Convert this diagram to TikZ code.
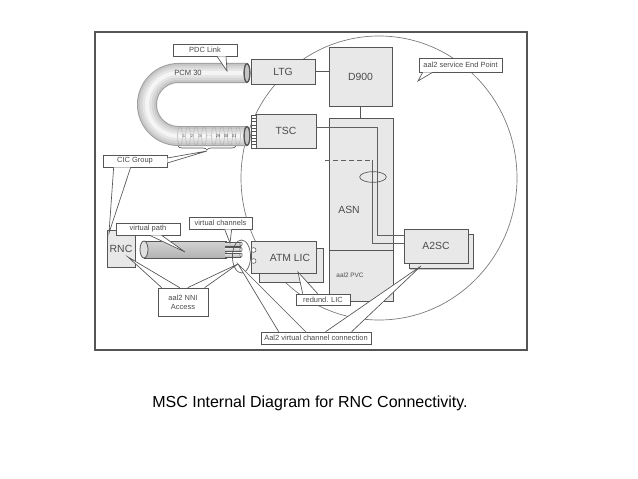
\documentclass[tikz,border=0pt]{standalone}
\usepackage{fontspec}
\setsansfont{Liberation Sans}
\definecolor{linegray}{RGB}{85, 85, 85}
\definecolor{boxgray}{RGB}{232, 232, 232}
\definecolor{textgray}{RGB}{75, 75, 75}
\usepackage{tikz}
\usetikzlibrary{calc, shadows, decorations.pathreplacing}

\begin{document}
\begin{tikzpicture}[x=0.75pt, y=-0.75pt,
  unit/.style={draw=linegray, fill=boxgray, line width=0.6pt, inner sep=0pt, text=textgray,
    font=\sffamily\fontsize{7.8}{9}\selectfont,
    drop shadow={shadow xshift=1pt, shadow yshift=-1pt, fill=gray!70, opacity=0.6}},
  callout/.style={draw=linegray, fill=white, line width=0.5pt, inner sep=0pt, align=center,
    text=textgray, font=\sffamily\fontsize{5.6}{6.6}\selectfont},
  wedge/.style={draw=linegray, fill=white, line width=0.5pt, line join=miter},
  wire/.style={draw=gray!75!black, line width=0.7pt}]
  \useasboundingbox[fill=white] (0,0) rectangle (638,478);

  % frame and service area
  \draw[linegray, line width=0.8pt] (95,32) rectangle (527,350);
  \draw[linegray!80, line width=0.5pt] (379,178) ellipse [x radius=103.5pt, y radius=106.5pt];

  % PCM 30 tube
  \foreach \w/\c in {20/gray!75, 18/gray!45, 14/gray!32, 9/gray!20, 4/gray!8}
    \draw[line width=\w*0.75pt, \c, rounded corners=23.6pt] (247,73) -- (147,73) -- (147,136) -- (247,136);
  \foreach \x in {180,188,196,204,214,222,230,238}
    \draw[gray!65, line width=0.3pt] (\x,136) ellipse [x radius=1.8pt, y radius=7pt];
  \foreach \x/\t in {184/1, 192/2, 200/3, 209/\ldots, 218/29, 226/30, 234/31}
    \node[font=\sffamily\fontsize{3}{3}\selectfont, text=textgray, inner sep=0pt] (cic\x) at (\x,136) {\t};
  \foreach \y in {73,136}
    \draw[line width=1pt, linegray, fill=gray!45] (247,\y) ellipse [x radius=2.2pt, y radius=7pt];
  \node[font=\sffamily\fontsize{5.7}{6}\selectfont, text=gray!55!black] (pcmlabel) at (188,73) {PCM 30};
  \draw[linegray, line width=0.5pt, decorate, decoration={brace, mirror, amplitude=3pt}] (178,146) -- (236,146);
  \coordinate (bracetip) at (207,151);

  % switch units
  \node[unit, minimum width=48pt, minimum height=18.75pt] (ltg) at (283,71.5) {LTG};
  \node[unit, minimum width=47.25pt, minimum height=44.25pt] (d900) at (360.5,76.5) {D900};
  \node[unit, minimum width=45pt, minimum height=25.5pt] (tsc) at (286,131) {TSC};
  \node[unit, minimum width=48pt, minimum height=137.25pt] (asn) at (361,209.5) {};
  \node[unit, minimum width=48pt, minimum height=25pt] (a2scb) at (441,251.5) {};
  \node[unit, minimum width=48pt, minimum height=25.5pt] (a2sc) at (436,246) {A2SC};
  \node[unit, minimum width=48pt, minimum height=25.5pt] (atmlicb) at (291,265) {};
  \node[unit, minimum width=48.75pt, minimum height=24pt] (atmlic) at (283.5,257) {};
  \node[unit, minimum width=21pt, minimum height=27.75pt] (rnc) at (121,248.5) {RNC};
  \node[font=\sffamily\fontsize{7.8}{9}\selectfont, text=textgray] (atmname) at (290,258) {ATM LIC};
  \node[font=\sffamily\fontsize{7.8}{9}\selectfont, text=textgray] (asnname) at (349,210) {ASN};
  \node[font=\sffamily\fontsize{4.8}{5}\selectfont, text=textgray] (pvcname) at (350,275) {aal2 PVC};
  \coordinate (asnsplit) at (361,250);
  \draw[linegray, line width=0.5pt] (asnsplit -| asn.west) -- (asnsplit -| asn.east);
  \foreach \y in {-7,4}
    \draw[linegray, fill=white, line width=0.4pt] ($(atmlic.west)+(3,\y)$) circle [radius=1.8pt];

  % TSC port strip
  \draw[linegray, fill=white, line width=0.5pt] (251,115) rectangle (256,148);
  \foreach \i in {1,...,9}
    \draw[linegray, line width=0.4pt] (251,{115+\i*3.3}) -- (256,{115+\i*3.3});

  % links
  \draw[linegray, line width=0.6pt] (ltg.east) -- (ltg.east -| d900.west);
  \draw[linegray, line width=0.6pt] (d900.south) -- (d900.south |- asn.north);
  \coordinate (upbend) at (377,235);
  \coordinate (pvcstart) at (325,160);
  \coordinate (lowbend) at (372,243);
  \draw[wire] ($(tsc.east)+(0,-4)$) -| (upbend) -- (upbend -| a2sc.west);
  \draw[wire, dashed, dash pattern=on 3.5pt off 2.5pt] (pvcstart) -- (pvcstart -| lowbend);
  \draw[wire] (pvcstart -| lowbend) -- (lowbend) -- (lowbend -| a2sc.west);
  \draw[linegray, line width=0.5pt] (373,177) ellipse [x radius=10pt, y radius=4pt];

  % virtual path and channels
  \shade[top color=gray!35, middle color=gray!12, bottom color=gray!60] (144,241) rectangle (227,258);
  \draw[linegray, line width=0.6pt] (144,241) -- (227,241) (144,258) -- (227,258);
  \draw[linegray, line width=0.6pt, fill=gray!25] (144,249.5) ellipse [x radius=3pt, y radius=6.4pt];
  \foreach \y in {244,249.5,255} {
    \shade[top color=gray!15, bottom color=gray!55] (225,{\y-2}) rectangle (241,{\y+2});
    \draw[linegray, line width=0.4pt] (225,{\y-2}) -- (241,{\y-2}) (225,{\y+2}) -- (241,{\y+2});
    \draw[linegray, line width=0.4pt, fill=gray!20] (241,\y) ellipse [x radius=0.9pt, y radius=1.5pt];
  }
  \draw[linegray, line width=0.5pt] (241.5,256.5) ellipse [x radius=6.8pt, y radius=12.4pt];

  % callouts
  \node[callout, minimum width=48pt, minimum height=9pt] (pdc) at (205,50) {PDC Link};
  \node[callout, minimum width=62.25pt, minimum height=10.5pt] (endpoint) at (460.5,65) {aal2 service End Point};
  \node[callout, minimum width=48pt, minimum height=9pt] (cic) at (135,161) {CIC Group};
  \node[callout, minimum width=48pt, minimum height=9pt] (vpath) at (148,229) {virtual path};
  \node[callout, minimum width=47.25pt, minimum height=9pt] (vchan) at (220.5,223) {virtual channels};
  \node[callout, minimum width=37.5pt, minimum height=21pt] (nni) at (183,302) {aal2 NNI\\Access};
  \node[callout, minimum width=40.5pt, minimum height=8.25pt] (redund) at (323,299.5) {redund. LIC};
  \node[callout, minimum width=82.5pt, minimum height=9pt] (vcc) at (316,338) {Aal2 virtual channel connection};

  \coordinate (pdctip) at (227,71);
  \coordinate (eptip) at (418,81);
  \coordinate (rnctip) at (109,233);
  \coordinate (vptip) at (185,252);
  \coordinate (vctip) at (230,243);
  \coordinate (rncport) at (128,257);
  \coordinate (vcport) at (238,264);
  \coordinate (lictip) at (298,272);
  \coordinate (a2sctip) at (421,266);

  \draw[wedge] ($(pdc.south)+(12,0)$) -- (pdctip) -- ($(pdc.south)+(21,0)$);
  \draw[wedge] ($(endpoint.south west)+(4,0)$) -- (eptip) -- ($(endpoint.south west)+(14,0)$);
  \draw[wedge] ($(cic.east)+(0,-3)$) -- (bracetip) -- ($(cic.east)+(0,2)$);
  \draw[wedge] ($(cic.south west)+(11,0)$) -- (rnctip) -- ($(cic.south west)+(28,0)$);
  \draw[wedge] ($(vpath.south west)+(34,0)$) -- (vptip) -- ($(vpath.south west)+(46,0)$);
  \draw[wedge] ($(vchan.south west)+(36,0)$) -- (vctip) -- ($(vchan.south west)+(43,0)$);
  \draw[wedge] ($(nni.north west)+(4,0)$) -- (rncport) -- ($(nni.north west)+(22,0)$);
  \draw[wedge] ($(nni.north west)+(30,0)$) -- (vcport) -- ($(nni.north west)+(47,0)$);
  \draw[wedge] ($(redund.north west)+(7,0)$) -- (lictip) -- ($(redund.north west)+(22,0)$);
  \draw[wedge] ($(vcc.north west)+(18,0)$) -- (vcport) -- ($(vcc.north west)+(45,0)$);
  \draw[wedge] ($(vcc.north west)+(65,0)$) -- (a2sctip) -- ($(vcc.north west)+(91,0)$);

  % caption
  \node[font=\sffamily\fontsize{12}{14}\selectfont, anchor=base] (caption) at (310,407) {MSC Internal Diagram for RNC Connectivity.};
\end{tikzpicture}
\end{document}
